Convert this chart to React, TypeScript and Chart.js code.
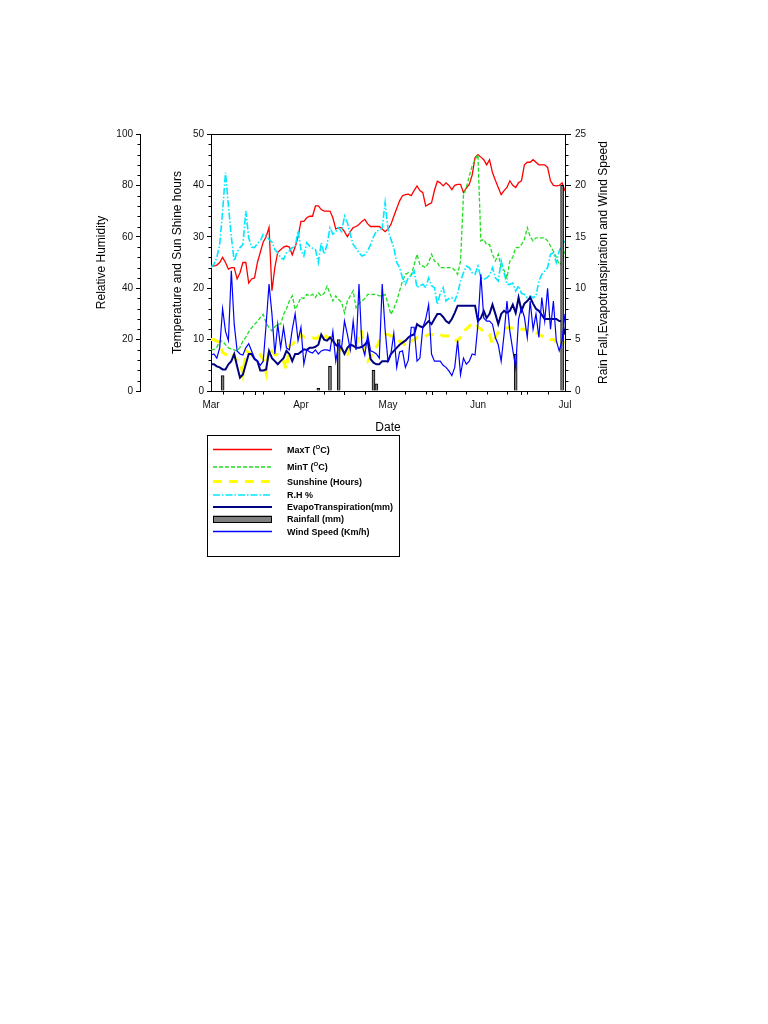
import React, { useEffect, useRef } from 'react';
import { Chart, registerables } from 'chart.js';

Chart.register(...registerables);

// Daily series, 1 March (day 0) to 1 July (day 122)
const monthTickDays = [0, 31, 61, 92, 122];
const monthLabels = ['Mar', 'Apr', 'May', 'Jun', 'Jul'];

const seriesLabels = [
  'MaxT (°C)',
  'MinT (°C)',
  'Sunshine (Hours)',
  'R.H %',
  'EvapoTranspiration(mm)',
  'Rainfall (mm)',
  'Wind Speed (Km/h)',
];

const maxT = [
  24.5, 24.3, 24.5, 25, 26, 25, 23.7, 24, 24, 21.8,
  23, 25, 25, 21, 21.8, 22, 25, 27, 29, 30,
  31.8, 19.5, 24, 27, 27.5, 28, 28.2, 28, 26.5, 28,
  30, 33, 33, 33.7, 34, 34, 36, 36, 35.3, 35,
  35, 35, 33.7, 31.5, 31.8, 31.8, 31, 30, 31, 31.8,
  32, 32.4, 33, 33.4, 32.5, 32, 32, 32, 32, 31.5,
  31, 31.5, 32.4, 34, 35.5, 37, 38, 38.2, 38.3, 38,
  39, 39.9, 39, 38.6, 36, 36.3, 36.6, 39, 40.8, 40.5,
  39.9, 40.5, 40, 39.2, 40, 40.2, 40.2, 38.6, 39.5, 40.2,
  42, 45.4, 46, 45.5, 45, 44, 45, 42.5, 41, 39.6,
  38.2, 39, 39.6, 40.9, 40, 39.6, 40.5, 40.9, 44, 44.5,
  44.5, 45, 44.5, 44, 44, 44, 43.5, 40.9, 40, 39.9,
  40, 40.5, 38.9,
];

const minT = [
  8, 8.1, 8.5, 9.7, 9.7, 9, 8.4, 8.2, 8, 7.8,
  8.5, 9.7, 10.5, 11.5, 12.3, 13, 13.5, 14.3, 14.9, 13.3,
  12.3, 11.7, 12.5, 13, 13, 14.9, 16, 17.5, 18.5, 15.9,
  16.9, 18.2, 18, 18.8, 18.5, 18.8, 18.2, 19.1, 18.5, 19,
  20.4, 19, 17.5, 18.5, 17.8, 17.2, 15.2, 17.5, 18.5, 19.5,
  16.2, 17, 17.5, 18, 18.8, 18.8, 18.8, 18.8, 18.5, 18.5,
  18.8, 17, 14.9, 16, 17.5, 19.5, 21.4, 22.7, 23, 22.5,
  24.5, 26.6, 24.6, 24.3, 24, 25, 26.6, 25.3, 25, 24,
  24, 24, 24, 24, 23.5, 22.7, 25.3, 38, 39.6, 41.8,
  43.8, 45, 46, 29.2, 29.5, 28.5, 28.5, 26.6, 25.3, 26.6,
  24, 23.5, 22, 25.3, 26, 27.9, 27.9, 28.5, 29.5, 31.8,
  30, 29.2, 29.8, 29.8, 29.8, 29.8, 29.2, 28.2, 27.2, 26,
  24.6, 25, 27.2,
];

const sunshine = [
  10, 10, 9.7, 9.5, 7.5, 7.1, 7.1, 7.5, 6.5, 6,
  5.8, 3.2, 7.8, 7.5, 7.1, 7.1, 7.5, 7.1, 6, 3.6,
  8.4, 7.8, 7.1, 7, 6.5, 5.8, 4.2, 8.8, 9.1, 9.7,
  9.7, 11, 10.5, 10.4, 10.4, 10.4, 10.2, 10.4, 11.3, 11,
  10.4, 10.4, 9.4, 9.4, 8.4, 7.8, 7.1, 7.1, 8.4, 8.4,
  8.4, 11.7, 11.5, 7.1, 5.8, 6.5, 7.8, 8.5, 9.7, 10.4,
  11, 11, 10.7, 10.7, 10.5, 9.7, 9.5, 8.8, 9.5, 9.7,
  10, 10.4, 10.4, 10.4, 10.7, 11, 11, 11, 11, 11,
  10.7, 10.7, 10.7, 10.5, 10, 9.7, 10.5, 11.7, 12, 12.6,
  13, 13.3, 12.5, 12, 11.7, 11.5, 11, 9.1, 10.5, 11.5,
  12, 12, 12.3, 12.3, 12.2, 12, 12, 12, 12, 11.7,
  11.7, 11.5, 11.3, 11, 10.7, 10.5, 10.5, 10, 10, 9.5,
  9.1, 9.5, 9.5,
];

const relHumidity = [
  48, 49.3, 52, 57, 70, 85, 72, 60, 50.6, 54,
  55.8, 57, 70, 59.6, 56, 55.8, 57.5, 58.4, 61, 60.3,
  59, 58, 55, 53.8, 51.9, 51.2, 53.8, 54.5, 55.8, 56,
  62.3, 55, 52.5, 57.7, 56.4, 55.5, 55, 50, 57.7, 53.2,
  57, 63.5, 61, 62, 63.5, 62, 68, 65.5, 61, 57,
  55.5, 53.8, 52.5, 53, 54.5, 57, 60, 62.3, 62.5, 63.5,
  73.3, 62.9, 59, 55.8, 50, 48, 44, 41.5, 44, 45,
  46.7, 40.2, 41, 41.5, 40.2, 44, 41, 40.2, 33.7, 38,
  40.2, 35, 36, 36.3, 35, 38, 42.8, 46, 48.6, 48,
  46, 45.4, 48.6, 44, 43.4, 44, 45, 48, 44, 42.8,
  50.6, 46, 41.5, 41.5, 42, 38.9, 40.9, 38, 37.6, 36.3,
  37, 36.3, 37, 42.8, 45.4, 46.7, 48, 53.2, 53.8, 50,
  54.5, 57, 58.4,
];

const evapo = [
  2.6, 2.6, 2.4, 2.3, 2.1, 2.1, 2.6, 2.9, 3.6, 2.4,
  1.3, 1.6, 2.6, 3.6, 3.6, 3.1, 2.9, 2.0, 2.0, 2.1,
  3.9, 3.2, 2.9, 2.6, 2.9, 3.2, 3.9, 3.6, 2.9, 3.6,
  3.6, 3.8, 4.05, 4.0, 4.2, 4.2, 4.3, 4.5, 5.5, 5.0,
  4.9, 5.2, 4.9, 4.5, 4.3, 4.2, 3.6, 4.2, 4.5, 4.4,
  4.2, 4.2, 4.3, 4.5, 4.9, 3.1, 2.75, 2.6, 2.6, 2.9,
  2.9, 2.9, 3.6, 3.9, 4.2, 4.5, 4.7, 4.9, 5.2, 5.4,
  5.5, 6.5, 6.3, 6.2, 6.5, 6.8, 6.5, 7.0, 7.5, 7.5,
  7.2, 6.8, 6.6, 7.0, 7.6, 8.3, 8.3, 8.3, 8.3, 8.3,
  8.3, 8.3, 6.8, 7.1, 7.8, 7.1, 7.5, 8.4, 7.5, 6.5,
  7.5, 7.8, 7.6, 7.8, 8.4, 7.6, 9.1, 7.8, 8.5, 8.75,
  9.1, 8.5, 8.0, 7.8, 7.4, 7.0, 7.0, 7.0, 7.0, 7.0,
  6.8, 6.8, 5.5,
];

const windSpeed = [
  3.5, 3.6, 3.2, 4.2, 8.0, 5.8, 4.9, 11.7, 6.5, 3.9,
  3.6, 3.5, 4.2, 4.6, 3.9, 3.2, 2.9, 2.5, 2.9, 6.5,
  10.4, 7.5, 3.6, 6.5, 4.2, 6.2, 4.2, 4.0, 6.0, 7.5,
  4.9, 6.2, 2.6, 4.0, 3.8, 3.7, 4.0, 3.6, 3.9, 4.0,
  4.0, 3.9, 5.8, 2.9, 4.6, 4.2, 6.8, 5.5, 4.0, 6.8,
  4.0, 10.4, 4.5, 3.5, 5.5, 3.9, 3.8, 3.6, 3.2, 10.4,
  6.0, 2.9, 3.6, 5.6, 2.3, 3.8, 3.9, 2.3, 3.0, 6.2,
  6.2, 2.9, 3.2, 6.2, 7.0, 8.4, 3.6, 2.9, 2.9, 2.9,
  2.5, 2.3, 1.95, 1.5, 2.3, 4.9, 1.6, 3.2, 2.6, 2.9,
  3.6, 3.5, 6.5, 11.35, 7.1, 6.8, 6.8, 6.5, 5.2, 4.5,
  2.9, 5.5, 8.75, 5.8, 4.0, 2.3, 7.0, 8.1, 7.2, 5.2,
  8.75, 6.0, 7.5, 5.2, 9.1, 6.8, 10.0, 6.0, 8.75, 4.9,
  3.9, 4.9, 7.5,
];

const rainDays = [4, 37, 41, 44, 56, 57, 105, 121];
const rainfall = [1.5, 0.25, 2.4, 5.0, 2.0, 0.7, 3.6, 20.0];

const FONT = "'Liberation Sans', Arial, Helvetica, sans-serif";

const toPoints = (values: number[]) => values.map((y, x) => ({ x, y }));

// Short minor tick marks, the top frame line and the right-hand axis title
const axisDecor = {
  id: 'axisDecor',
  afterDraw(chart: any) {
    const { ctx, chartArea, scales } = chart;
    ctx.save();
    ctx.strokeStyle = '#000';
    ctx.lineWidth = 1;

    const top = Math.round(chartArea.top) + 0.5;
    ctx.beginPath();
    ctx.moveTo(Math.round(chartArea.left), top);
    ctx.lineTo(Math.round(chartArea.right) + 1, top);
    ctx.stroke();

    const vMinor = (scale: any, step: number, major: number, edge: number, dir: number) => {
      ctx.beginPath();
      for (let k = 0; k * step <= scale.max; k++) {
        const v = k * step;
        if (Math.abs(v % major) < 1e-9) continue;
        const y = Math.round(scale.getPixelForValue(v)) + 0.5;
        ctx.moveTo(edge, y);
        ctx.lineTo(edge + dir * 3, y);
      }
      ctx.stroke();
    };
    vMinor(scales.yRH, 4, 20, Math.round(scales.yRH.right) + 0.5, -1);
    vMinor(scales.yT, 2, 10, Math.round(chartArea.left) + 0.5, -1);
    vMinor(scales.yR, 1, 5, Math.round(chartArea.right) + 0.5, 1);

    // weekly ticks along the date axis
    const yb = Math.round(chartArea.bottom) + 0.5;
    ctx.beginPath();
    for (let d = 4; d < 122; d += 7) {
      if (monthTickDays.some((m) => Math.abs(m - d) < 2)) continue;
      const x = Math.round(scales.x.getPixelForValue(d)) + 0.5;
      ctx.moveTo(x, yb);
      ctx.lineTo(x, yb + 3);
    }
    ctx.stroke();

    // right axis title, reading bottom to top
    const yR = scales.yR;
    ctx.fillStyle = '#000';
    ctx.font = `12px ${FONT}`;
    ctx.textAlign = 'center';
    ctx.textBaseline = 'middle';
    ctx.translate(yR.left + 39, (chartArea.top + chartArea.bottom) / 2);
    ctx.rotate(-Math.PI / 2);
    ctx.fillText('Rain Fall,Evapotranspiration and Wind Speed', 0, 0);
    ctx.restore();
  },
};

// Boxed legend below the plot, drawn from the datasets' own styles
const boxedLegend = {
  id: 'boxedLegend',
  afterDraw(chart: any) {
    const { ctx, chartArea } = chart;
    const left = Math.round(chartArea.left) - 4;
    const top = Math.round(chartArea.bottom) + 44;
    const rowOffsets = [14.5, 32, 46.5, 60, 72, 84, 96.5];
    ctx.save();
    ctx.strokeStyle = '#000';
    ctx.lineWidth = 1;
    ctx.strokeRect(left + 0.5, top + 0.5, 192, 121);

    chart.data.datasets.forEach((ds: any, i: number) => {
      const y = top + rowOffsets[i];
      const x0 = left + 6;
      const x1 = left + 65;
      ctx.save();
      if (ds.type === 'bar') {
        ctx.fillStyle = ds.backgroundColor;
        ctx.fillRect(x0, y - 3.5, x1 - x0, 7);
        ctx.strokeStyle = ds.borderColor;
        ctx.lineWidth = 1;
        ctx.strokeRect(x0 + 0.5, Math.round(y - 3.5) + 0.5, x1 - x0 - 1, 6);
      } else {
        ctx.strokeStyle = ds.borderColor;
        ctx.lineWidth = Math.max(ds.borderWidth, 1.5);
        ctx.setLineDash(ds.borderDash || []);
        ctx.beginPath();
        ctx.moveTo(x0, y);
        ctx.lineTo(x1, y);
        ctx.stroke();
      }
      ctx.restore();

      // label, with the degree sign set as a raised "O"
      ctx.fillStyle = '#000';
      ctx.textBaseline = 'middle';
      ctx.textAlign = 'left';
      let tx = left + 80;
      const ty = y + 1;
      const parts = String(ds.label).split('°');
      parts.forEach((part, j) => {
        if (j > 0) {
          ctx.font = `bold 6px ${FONT}`;
          ctx.fillText('O', tx, ty - 3.5);
          tx += ctx.measureText('O').width;
        }
        ctx.font = `bold 9px ${FONT}`;
        ctx.fillText(part, tx, ty);
        tx += ctx.measureText(part).width;
      });
    });
    ctx.restore();
  },
};

const tickFont = { family: FONT, size: 10 };
const titleFont = { family: FONT, size: 12 };
const axisBorder = { display: true, color: '#000', width: 1 };

export default function App() {
  const canvasRef = useRef<HTMLCanvasElement>(null);

  useEffect(() => {
    const canvas = canvasRef.current;
    if (!canvas) return;

    const lineDs = (i: number, data: number[], yAxisID: string, style: any) => ({
      type: 'line',
      label: seriesLabels[i],
      data: toPoints(data),
      xAxisID: 'x',
      yAxisID,
      pointRadius: 0,
      tension: 0,
      fill: false,
      order: 6 - i,
      ...style,
    });

    const chart = new Chart(canvas, {
      type: 'line',
      data: {
        datasets: [
          lineDs(0, maxT, 'yT', { borderColor: '#ff0000', borderWidth: 1.3 }),
          lineDs(1, minT, 'yT', { borderColor: '#22dd22', borderWidth: 1.3, borderDash: [4, 2] }),
          lineDs(2, sunshine, 'yT', { borderColor: '#ffff00', borderWidth: 3, borderDash: [9, 7] }),
          lineDs(3, relHumidity, 'yRH', { borderColor: '#00e8ff', borderWidth: 1.6, borderDash: [7, 2, 1.5, 2] }),
          lineDs(4, evapo, 'yR', { borderColor: '#000080', borderWidth: 2 }),
          {
            type: 'bar',
            label: seriesLabels[5],
            data: rainDays.map((x, i) => ({ x, y: rainfall[i] })),
            xAxisID: 'x',
            yAxisID: 'yR',
            backgroundColor: '#808080',
            borderColor: '#000000',
            borderWidth: 1,
            barThickness: 3,
            order: 1,
          },
          lineDs(6, windSpeed, 'yR', { borderColor: '#0000ff', borderWidth: 1.2 }),
        ] as any,
      },
      options: {
        responsive: false,
        animation: false,
        devicePixelRatio: 1,
        events: [],
        layout: { padding: { left: 80, right: 143, top: 134, bottom: 583 } },
        plugins: {
          legend: { display: false },
          tooltip: { enabled: false },
        },
        scales: {
          x: {
            type: 'linear',
            position: 'bottom',
            min: 0,
            max: 122,
            offset: false,
            afterBuildTicks: (scale: any) => {
              scale.ticks = monthTickDays.map((value) => ({ value }));
            },
            afterFit: (scale: any) => {
              scale.height = 50;
            },
            ticks: {
              autoSkip: false,
              maxRotation: 0,
              padding: 4,
              color: '#111',
              font: tickFont,
              callback: (value: any) => {
                const k = monthTickDays.indexOf(Number(value));
                return k >= 0 ? monthLabels[k] : '';
              },
            },
            grid: { drawOnChartArea: false, tickLength: 4, tickColor: '#000' },
            border: axisBorder,
            title: {
              display: true,
              text: 'Date',
              color: '#000',
              font: titleFont,
              padding: { top: 0, bottom: 6 },
            },
          },
          yRH: {
            type: 'linear',
            position: 'left',
            weight: 2,
            min: 0,
            max: 100,
            afterFit: (scale: any) => {
              scale.width = 60;
            },
            ticks: { stepSize: 20, padding: 3, color: '#111', font: tickFont },
            grid: { drawOnChartArea: false, tickLength: 4, tickColor: '#000' },
            border: axisBorder,
            title: {
              display: true,
              text: 'Relative Humidity',
              color: '#000',
              font: titleFont,
              padding: { top: 14, bottom: 0 },
            },
          },
          yT: {
            type: 'linear',
            position: 'left',
            weight: 1,
            min: 0,
            max: 50,
            afterFit: (scale: any) => {
              scale.width = 71;
            },
            ticks: { stepSize: 10, padding: 3, color: '#111', font: tickFont },
            grid: { drawOnChartArea: false, tickLength: 4, tickColor: '#000' },
            border: axisBorder,
            title: {
              display: true,
              text: 'Temperature and Sun Shine hours',
              color: '#000',
              font: titleFont,
              padding: { top: 30, bottom: 0 },
            },
          },
          yR: {
            type: 'linear',
            position: 'right',
            min: 0,
            max: 25,
            afterFit: (scale: any) => {
              scale.width = 60;
            },
            ticks: { stepSize: 5, padding: 4, color: '#111', font: tickFont },
            grid: { drawOnChartArea: false, tickLength: 6, tickColor: '#000' },
            border: axisBorder,
          },
        },
      } as any,
      plugins: [axisDecor, boxedLegend],
    });

    return () => chart.destroy();
  }, []);

  return (
    <div style={{ position: 'absolute', left: 0, top: 0, width: 768, height: 1024, background: '#fff' }}>
      <canvas ref={canvasRef} width={768} height={1024} style={{ display: 'block', width: 768, height: 1024 }} />
    </div>
  );
}
